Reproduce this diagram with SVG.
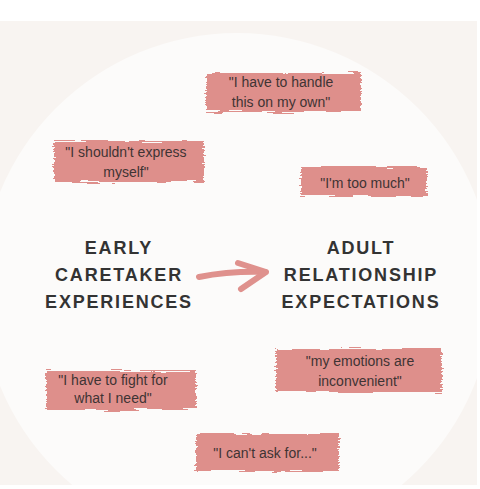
<svg xmlns="http://www.w3.org/2000/svg" width="480" height="489" viewBox="0 0 480 489">
<defs>
<filter id="rough" x="-8%" y="-20%" width="116%" height="140%">
<feTurbulence type="fractalNoise" baseFrequency="0.03 0.6" numOctaves="2" seed="5" result="n"/>
<feDisplacementMap in="SourceGraphic" in2="n" scale="7" xChannelSelector="R" yChannelSelector="G"/>
</filter>
<clipPath id="bg"><rect x="0" y="21" width="477" height="464"/></clipPath>
<style>
.brush{fill:#de8f8b;filter:url(#rough)}
.lbl{font-family:"Liberation Sans",Arial,sans-serif;font-size:14px;fill:#3f3434;text-anchor:middle}
.head{font-family:"Liberation Sans",Arial,sans-serif;font-size:18px;font-weight:bold;letter-spacing:1.8px;fill:#333333;text-anchor:middle}
.arrow{fill:none;stroke:#df918d;stroke-width:6;stroke-linecap:round;stroke-linejoin:round}
</style>
</defs>
<rect x="0" y="0" width="480" height="489" fill="#ffffff"/>
<rect x="0" y="21" width="477" height="464" fill="#f8f4f1"/>
<circle cx="237" cy="289" r="256" fill="#fcfbfa" clip-path="url(#bg)"/>

<g id="node-handle">
<rect class="brush" x="206" y="73" width="155" height="39"/>
<text class="lbl" x="281" y="87">"I have to handle</text>
<text class="lbl" x="281" y="107">this on my own"</text>
</g>
<g id="node-express">
<rect class="brush" x="54" y="141" width="150" height="41"/>
<text class="lbl" x="126" y="157">"I shouldn't express</text>
<text class="lbl" x="126" y="177">myself"</text>
</g>
<g id="node-toomuch">
<rect class="brush" x="301" y="167" width="126" height="29"/>
<text class="lbl" x="365" y="188">"I'm too much"</text>
</g>
<g id="node-early">
<text class="head" x="119" y="254">EARLY</text>
<text class="head" x="119" y="281">CARETAKER</text>
<text class="head" x="119" y="308">EXPERIENCES</text>
</g>
<g id="node-adult">
<text class="head" x="361" y="254">ADULT</text>
<text class="head" x="361" y="281">RELATIONSHIP</text>
<text class="head" x="361" y="308">EXPECTATIONS</text>
</g>
<g id="node-fight">
<rect class="brush" x="46" y="371" width="150" height="39"/>
<text class="lbl" x="113" y="385">"I have to fight for</text>
<text class="lbl" x="113" y="403">what I need"</text>
</g>
<g id="node-emotions">
<rect class="brush" x="276" y="349" width="166" height="43"/>
<text class="lbl" x="360" y="366">"my emotions are</text>
<text class="lbl" x="360" y="386">inconvenient"</text>
</g>
<g id="node-ask">
<rect class="brush" x="196" y="434" width="143" height="37"/>
<text class="lbl" x="265" y="458">"I can't ask for..."</text>
</g>

<g id="connectors">
<path class="arrow" d="M199 277 Q230 271 265 272"/>
<path class="arrow" d="M238 263 L266 272 L241 289"/>
</g>
</svg>
